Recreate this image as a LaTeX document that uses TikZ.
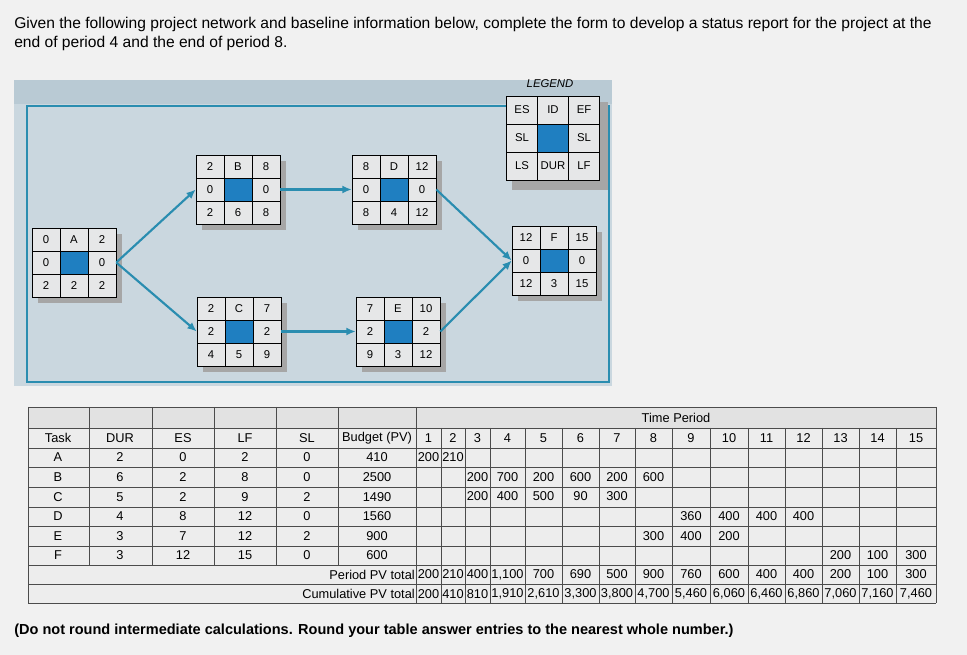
\documentclass[tikz,border=0pt]{standalone}
\usepackage{fontspec}
\setmainfont{Liberation Sans}
\usetikzlibrary{arrows.meta}
\definecolor{pagebg}{HTML}{F1F1F1}
\definecolor{netbg}{HTML}{CAD7DF}
\definecolor{netband}{HTML}{B9CAD4}
\definecolor{teal}{HTML}{2A8DB0}
\definecolor{cellbg}{HTML}{E6E7E8}
\definecolor{cblue}{HTML}{1F7FC1}
\definecolor{tabbg}{HTML}{EDEDED}
\definecolor{tabhead}{HTML}{E2E2E2}
\tikzset{
 cell/.style={draw=black,line width=0.6pt,fill=cellbg,minimum width=21pt,minimum height=17.25pt,inner sep=0pt,font=\fontsize{8.5}{9}\selectfont},
 bluecell/.style={cell,fill=cblue},
 conn/.style={draw=teal,line width=1.6pt,-{Latex[length=7pt,width=6pt]}},
 tline/.style={draw=black!70,line width=0.5pt},
 tt/.style={font=\fontsize{9.6}{10}\selectfont,inner sep=0pt}
}
% #1 name, #2-#9 cell texts tl tc tr ml mr bl bc br
\newcommand\actbox[9]{%
 \fill[black!35] (6,6) rectangle (90,75);
 \node[cell] at (14,11.5) {#2};\node[cell] at (42,11.5) {#3};\node[cell] at (70,11.5) {#4};
 \node[cell] at (14,34.5) {#5};\node[bluecell] at (42,34.5) {};\node[cell] at (70,34.5) {#6};
 \node[cell] at (14,57.5) {#7};\node[cell] at (42,57.5) {#8};\node[cell] at (70,57.5) {#9};
 \node[minimum width=63pt,minimum height=51.75pt,inner sep=0pt] (#1) at (42,34.5) {};}
\begin{document}
\begin{tikzpicture}[x=0.75pt,y=-0.75pt]
\fill[pagebg] (0,0) rectangle (967,655);
\useasboundingbox (0,0) rectangle (967,655);
\node[anchor=north west,align=left,inner sep=0pt,font=\fontsize{11.7}{14.2}\selectfont] (q) at (14,17)
 {Given the following project network and baseline information below, complete the form to develop a status report for the project at the\\end of period 4 and the end of period 8.};
% network area
\fill[netbg] (14,80) rectangle (612,386);
\fill[netband] (14,80) rectangle (612,104);
\draw[teal,line width=1.2pt] (27,106) rectangle (609,382);
\begin{scope}[shift={(32,228)}]\actbox{A}{0}{A}{2}{0}{0}{2}{2}{2}\end{scope}
\begin{scope}[shift={(196,155)}]\actbox{B}{2}{B}{8}{0}{0}{2}{6}{8}\end{scope}
\begin{scope}[shift={(352,155)}]\actbox{D}{8}{D}{12}{0}{0}{8}{4}{12}\end{scope}
\begin{scope}[shift={(197,297)}]\actbox{C}{2}{C}{7}{2}{2}{4}{5}{9}\end{scope}
\begin{scope}[shift={(356,297)}]\actbox{E}{7}{E}{10}{2}{2}{9}{3}{12}\end{scope}
\begin{scope}[shift={(512,226)}]\actbox{F}{12}{F}{15}{0}{0}{12}{3}{15}\end{scope}
\begin{scope}[shift={(506,96)}]
 \fill[black!35] (6,6) rectangle (102,94);
 \foreach \t [count=\i from 0] in {ES,ID,EF}{\node[cell,minimum width=23.25pt,minimum height=21pt] at (16+31*\i,14) {\t};}
 \node[cell,minimum width=23.25pt,minimum height=21pt] at (16,42) {SL};
 \node[bluecell,minimum width=23.25pt,minimum height=21pt] at (47,42) {};
 \node[cell,minimum width=23.25pt,minimum height=21pt] at (78,42) {SL};
 \foreach \t [count=\i from 0] in {LS,DUR,LF}{\node[cell,minimum width=23.25pt,minimum height=21pt] at (16+31*\i,70) {\t};}
 \node[minimum width=70pt,minimum height=63pt,inner sep=0pt] (L) at (47,42) {};
\end{scope}
\node[font=\itshape\fontsize{8.5}{9}\selectfont] (lg) at (550,84) {LEGEND};
\draw[conn] (A.east) -- (B.west);
\draw[conn] (A.east) -- (C.west);
\draw[conn] (B.east) -- (D.west);
\draw[conn] (C.east) -- (E.west);
\draw[conn] (D.east) -- (F.west);
\draw[conn] (E.east) -- (F.west);
% table
\fill[tabbg] (28,407) rectangle (936,603);
\fill[tabhead] (28,407) rectangle (936,428);
\foreach \y in {407,428,448,467,487,507,526,546,565,584,603} \draw[tline] (28,\y) -- (936,\y);
\draw[tline] (28,407) -- (28,603);
\foreach \x in {89,152,214,276,338} \draw[tline] (\x,407) -- (\x,565);
\draw[tline] (416,407) -- (416,603);
\foreach \x in {441,465,490,525,562,599,635,672,710,748,785,822,859,896} \draw[tline] (\x,428) -- (\x,603);
\draw[tline] (936,407) -- (936,603);
\node[tt] (tp) at (676,418) {Time Period};
\foreach \t/\x in {Task/58,DUR/120,ES/183,LF/245,SL/307,Budget (PV)/377} \node[tt] at (\x,438) {\t};
\def\cx{{428.5,453,477.5,507.5,543.5,580.5,617,653.5,691,729,766.5,803.5,840.5,877.5,916}}
\foreach \i in {1,...,15} \node[tt] at ({\cx[\i-1]},438) {\i};
\foreach \r/\a/\b/\c/\d/\e [count=\k from 0] in {A/2/0/2/0/410,B/6/2/8/0/2500,C/5/2/9/2/1490,D/4/8/12/0/1560,E/3/7/12/2/900,F/3/12/15/0/600}{
 \pgfmathsetmacro\yy{457.5+19.6*\k}
 \node[tt] at (58,\yy) {\r};\node[tt] at (120,\yy) {\a};\node[tt] at (183,\yy) {\b};
 \node[tt] at (245,\yy) {\c};\node[tt] at (307,\yy) {\d};\node[tt] at (377,\yy) {\e};}
\newcommand\pv[3]{\node[tt] at ({\cx[#1-1]},#2) {#3};}
\pv{1}{457.5}{200}\pv{2}{457.5}{210}
\foreach \i/\v in {3/200,4/700,5/200,6/600,7/200,8/600} {\pv{\i}{477}{\v}}
\foreach \i/\v in {3/200,4/400,5/500,6/90,7/300} {\pv{\i}{496.5}{\v}}
\foreach \i/\v in {9/360,10/400,11/400,12/400} {\pv{\i}{516}{\v}}
\foreach \i/\v in {8/300,9/400,10/200} {\pv{\i}{536}{\v}}
\foreach \i/\v in {13/200,14/100,15/300} {\pv{\i}{555.5}{\v}}
\node[tt,anchor=east] at (415,574.5) {Period PV total};
\foreach \i/\v in {1/200,2/210,3/400,4/{1,100},5/700,6/690,7/500,8/900,9/760,10/600,11/400,12/400,13/200,14/100,15/300} {\pv{\i}{574.5}{\v}}
\node[tt,anchor=east] at (415,594) {Cumulative PV total};
\foreach \i/\v in {1/200,2/410,3/810,4/{1,910},5/{2,610},6/{3,300},7/{3,800},8/{4,700},9/{5,460},10/{6,060},11/{6,460},12/{6,860},13/{7,060},14/{7,160},15/{7,460}} {\pv{\i}{594}{\v}}
\node[anchor=west,inner sep=0pt,font=\bfseries\fontsize{10.9}{12}\selectfont] (note) at (14,631) {(Do not round intermediate calculations. Round your table answer entries to the nearest whole number.)};
\end{tikzpicture}
\end{document}
